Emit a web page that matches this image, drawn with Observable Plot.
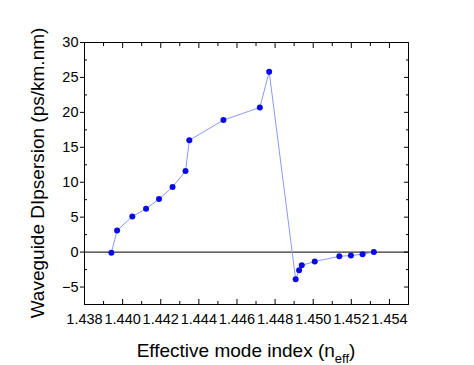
<!DOCTYPE html>
<html>
<head>
<meta charset="utf-8">
<script src="https://cdn.jsdelivr.net/npm/d3@7"></script>
<script src="https://cdn.jsdelivr.net/npm/@observablehq/plot@0.6"></script>
<style>
  html, body { margin: 0; padding: 0; background: #fff; }
  svg { font-family: "Liberation Sans", Arial, sans-serif; }
</style>
</head>
<body>
<div id="chart"></div>
<script>
const nEff = [1.43941, 1.43971, 1.44051, 1.44123, 1.44191, 1.44262, 1.44330, 1.44350, 1.44529, 1.44720, 1.44769, 1.44908, 1.44926, 1.44940, 1.45008, 1.45137, 1.45198, 1.45259, 1.45318];
const dispersion = [-0.1, 3.1, 5.1, 6.2, 7.6, 9.3, 11.6, 16.0, 18.9, 20.7, 25.8, -3.9, -2.6, -1.9, -1.35, -0.6, -0.5, -0.3, 0.0];
const xTicks = [1.438, 1.440, 1.442, 1.444, 1.446, 1.448, 1.450, 1.452, 1.454];
const xMinor = [1.439, 1.441, 1.443, 1.445, 1.447, 1.449, 1.451, 1.453];
const yTicks = [-5, 0, 5, 10, 15, 20, 25, 30];
const yMinor = [-7.5, -2.5, 2.5, 7.5, 12.5, 17.5, 22.5, 27.5];
const xLabel = "Effective mode index (n";
const xLabelSub = "eff";
const yLabel = "Waveguide DIpsersion (ps/km.nm)";

const data = nEff.map((x, i) => ({x, y: dispersion[i]}));
const blank = () => "";

const plot = Plot.plot({
  width: 474,
  height: 365,
  marginLeft: 84,
  marginRight: 66,
  marginTop: 42,
  marginBottom: 61,
  style: {fontFamily: "Liberation Sans, Arial, sans-serif", background: "#fff"},
  x: {domain: [1.438, 1.455]},
  y: {domain: [-7.5, 30]},
  marks: [
    Plot.ruleY([0], {stroke: "#000", strokeWidth: 1}),
    Plot.line(data, {x: "x", y: "y", stroke: "#8a9af2", strokeWidth: 1}),
    Plot.dot(data, {x: "x", y: "y", r: 3, fill: "#0a0ae6", stroke: null}),
    Plot.frame({stroke: "#000", strokeWidth: 1}),
    Plot.axisX({ticks: xTicks, anchor: "bottom", tickSize: -5, tickPadding: 14, tickFormat: d3.format(".3f"), fontSize: 14.5, fill: "#000", label: null}),
    Plot.axisX({ticks: xMinor, anchor: "bottom", tickSize: -3, tickFormat: blank, label: null}),
    Plot.axisX({ticks: xTicks, anchor: "top", tickSize: -5, tickFormat: blank, label: null}),
    Plot.axisX({ticks: xMinor, anchor: "top", tickSize: -3, tickFormat: blank, label: null}),
    Plot.axisY({ticks: yTicks, anchor: "left", tickSize: 4, tickPadding: 2, fontSize: 14.5, fill: "#000", label: null}),
    Plot.axisY({ticks: yMinor, anchor: "left", tickSize: -3, tickFormat: blank, label: null}),
    Plot.axisY({ticks: yTicks, anchor: "right", tickSize: -5, tickFormat: blank, label: null}),
    Plot.axisY({ticks: yMinor, anchor: "right", tickSize: -3, tickFormat: blank, label: null})
  ]
});

const svg = d3.select(plot);
const cx = (84 + (474 - 66)) / 2;
const cy = (42 + (365 - 61)) / 2;
const xt = svg.append("text")
  .attr("x", cx).attr("y", 357)
  .attr("text-anchor", "middle")
  .attr("font-size", 19)
  .attr("fill", "#000")
  .attr("font-family", "Liberation Sans, Arial, sans-serif");
xt.append("tspan").text(xLabel);
xt.append("tspan").attr("font-size", 13).attr("dy", 6).text(xLabelSub);
xt.append("tspan").attr("dy", -6).text(")");

svg.append("text")
  .attr("transform", `translate(44,${cy}) rotate(-90)`)
  .attr("text-anchor", "middle")
  .attr("font-size", 19)
  .attr("fill", "#000")
  .attr("font-family", "Liberation Sans, Arial, sans-serif")
  .text(yLabel);

document.getElementById("chart").appendChild(plot);
</script>
</body>
</html>
